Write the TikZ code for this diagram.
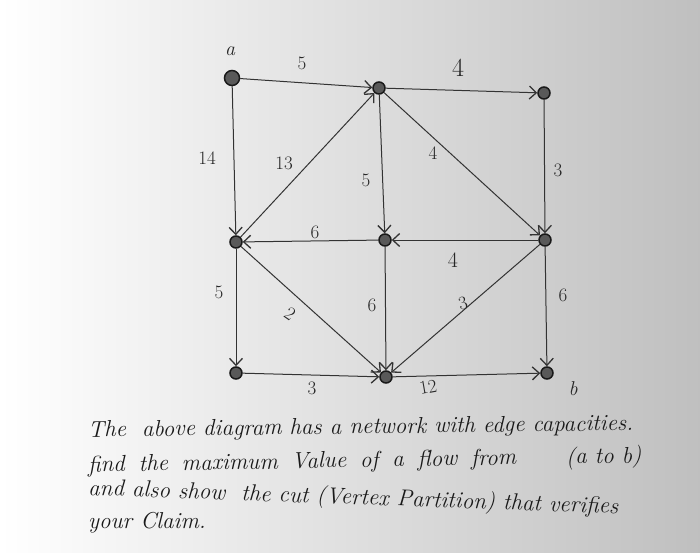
\documentclass[tikz,border=0pt]{standalone}
\usetikzlibrary{arrows.meta}
\begin{document}
\begin{tikzpicture}[x=1pt,y=-1pt,
  vtx/.style={circle,draw=black!90,line width=1.5pt,fill=black!65,minimum size=12pt,inner sep=0pt},
  srcv/.style={vtx,minimum size=15pt},
  conn/.style={draw=black!80,line width=1pt,-{Straight Barb[length=7pt,width=13pt,line width=1.3pt]}},
  caplbl/.style={font=\fontsize{19}{19}\selectfont,text=black!85,inner sep=0pt},
  vlbl/.style={font=\fontsize{20}{20}\selectfont\itshape,text=black!85,inner sep=0pt},
  hand/.style={font=\fontsize{23}{26}\selectfont\itshape,text=black!90,anchor=base west,inner sep=0pt}]
\useasboundingbox (0,0) rectangle (700,553);
\shade[left color=white,right color=black!25] (0,0) rectangle (700,553);
% vertices
\node[srcv] (a)  at (232,78)  {};
\node[vtx]  (t)  at (379,88)  {};
\node[vtx]  (tr) at (544,93)  {};
\node[vtx]  (l)  at (236,242) {};
\node[vtx]  (c)  at (385,240) {};
\node[vtx]  (r)  at (545,240) {};
\node[vtx]  (bl) at (236,373) {};
\node[vtx]  (bm) at (386,377) {};
\node[vtx]  (b)  at (547,373) {};
\node[vlbl] (la) at (230,51) {a};
\node[vlbl] (lb) at (573,389) {b};
% edges
\draw[conn] (a) -- (t);
\draw[conn] (t) -- (tr);
\draw[conn] (a) -- (l);
\draw[conn] (l) -- (t);
\draw[conn] (t) -- (c);
\draw[conn] (t) -- (r);
\draw[conn] (tr) -- (r);
\draw[conn] (c) -- (l);
\draw[conn] (r) -- (c);
\draw[conn] (l) -- (bl);
\draw[conn] (l) -- (bm);
\draw[conn] (c) -- (bm);
\draw[conn] (r) -- (bm);
\draw[conn] (r) -- (b);
\draw[conn] (bl) -- (bm);
\draw[conn] (bm) -- (b);
% capacities
\node[caplbl] (c1) at (302,63) {5};
\node[caplbl,font=\fontsize{26}{26}\selectfont] (c2) at (458,68) {4};
\node[caplbl] (c3) at (207,158) {14};
\node[caplbl] (c4) at (284,163) {13};
\node[caplbl] (c5) at (366,180) {5};
\node[caplbl] (c6) at (433,153) {4};
\node[caplbl] (c7) at (558,170) {3};
\node[caplbl] (c8) at (315,232) {6};
\node[caplbl,font=\fontsize{22}{22}\selectfont] (c9) at (453,260) {4};
\node[caplbl] (c10) at (219,292) {5};
\node[caplbl,rotate=-35] (c11) at (290,314) {2};
\node[caplbl] (c12) at (372,305) {6};
\node[caplbl,rotate=15] (c13) at (463,303) {3};
\node[caplbl] (c14) at (563,295) {6};
\node[caplbl] (c15) at (312,388) {3};
\node[caplbl,rotate=10] (c16) at (428,387) {12};
% text
\node[hand,rotate=0.7] (t1) at (88,437) {The\ \ above diagram has a network with edge capacities.};
\node[hand,rotate=1] (t2) at (88,472) {\spaceskip=0.6em find the maximum Value of a flow from};
\node[hand,rotate=1] (t2b) at (566,464) {(a to b)};
\node[hand,rotate=-2] (t3) at (88,495) {and also show\ \ the cut (Vertex Partition) that verifies};
\node[hand] (t4) at (88,528) {your Claim.};
\end{tikzpicture}
\end{document}
